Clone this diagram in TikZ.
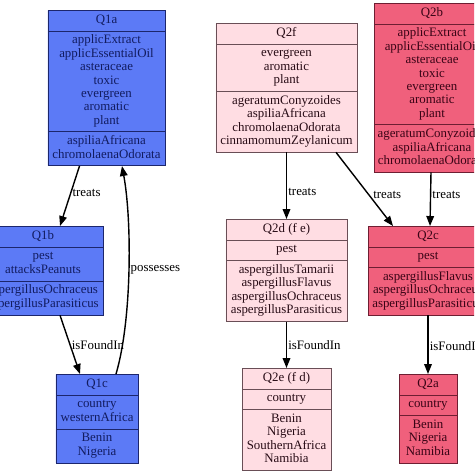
\documentclass[tikz,border=0pt]{standalone}
\usepackage{fontspec}
\setmainfont{Liberation Serif}
\usetikzlibrary{arrows.meta, shapes.multipart, calc}

\definecolor{oneFill}{RGB}{92,122,246}
\definecolor{oneText}{RGB}{18,28,96}
\definecolor{oneLine}{RGB}{28,38,108}
\definecolor{paleFill}{RGB}{255,221,227}
\definecolor{paleText}{RGB}{40,12,22}
\definecolor{paleLine}{RGB}{105,78,86}
\definecolor{deepFill}{RGB}{240,96,124}
\definecolor{deepText}{RGB}{58,4,22}
\definecolor{deepLine}{RGB}{110,30,50}

% one field of a record, padded to full line height
\newcommand{\field}[1]{\strut#1\strut}

\begin{document}
\begin{tikzpicture}[
    x=0.03cm, y=-0.03cm,
    % Styles
    record/.style={rectangle split, rectangle split parts=3, align=center, anchor=north,
        line width=0.6pt, inner xsep=2pt, inner ysep=2.8pt,
        font=\fontsize{11}{11.4}\selectfont},
    q_one/.style={record, draw=oneLine, fill=oneFill, text=oneText},
    q_pale/.style={record, draw=paleLine, fill=paleFill, text=paleText},
    q_deep/.style={record, draw=deepLine, fill=deepFill, text=deepText},
    arrow/.style={-{Triangle[length=8.5pt, width=6.5pt]}, line width=1.2pt, black},
    rel/.style={right, inner sep=1pt, font=\fontsize{11}{12}\selectfont}
]
    \useasboundingbox (0,0) rectangle (474,474);
    \clip (0,0) rectangle (474,474);

    % 1. LEFT GRAPH (Q1)
    \node[q_one, minimum width=3.51cm] (q1a) at (106.5,10) {\field{Q1a}
        \nodepart{two} \field{applicExtract\\applicEssentialOil\\asteraceae\\toxic\\evergreen\\aromatic\\plant}
        \nodepart{three} \field{aspiliaAfricana\\chromolaenaOdorata}};
    \node[q_one, minimum width=3.6cm] (q1b) at (43,226) {\field{Q1b}
        \nodepart{two} \field{pest\\attacksPeanuts}
        \nodepart{three} \field{aspergillusOchraceus\\aspergillusParasiticus}};
    \node[q_one, minimum width=2.46cm] (q1c) at (97,374) {\field{Q1c}
        \nodepart{two} \field{country\\westernAfrica}
        \nodepart{three} \field{Benin\\Nigeria}};

    % 2. RIGHT GRAPH (Q2)
    \node[q_pale, minimum width=4.23cm] (q2f) at (286.5,23) {\field{Q2f}
        \nodepart{two} \field{evergreen\\aromatic\\plant}
        \nodepart{three} \field{ageratumConyzoides\\aspiliaAfricana\\chromolaenaOdorata\\cinnamomumZeylanicum}};
    \node[q_deep, minimum width=3.48cm] (q2b) at (432,3) {\field{Q2b}
        \nodepart{two} \field{applicExtract\\applicEssentialOil\\asteraceae\\toxic\\evergreen\\aromatic\\plant}
        \nodepart{three} \field{ageratumConyzoides\\aspiliaAfricana\\chromolaenaOdorata}};
    \node[q_pale, minimum width=3.63cm] (q2d) at (286.5,219) {\field{Q2d (f e)}
        \nodepart{two} \field{pest}
        \nodepart{three} \field{aspergillusTamarii\\aspergillusFlavus\\aspergillusOchraceus\\aspergillusParasiticus}};
    \node[q_deep, minimum width=3.6cm] (q2c) at (428,226) {\field{Q2c}
        \nodepart{two} \field{pest}
        \nodepart{three} \field{aspergillusFlavus\\aspergillusOchraceus\\aspergillusParasiticus}};
    \node[q_pale, minimum width=2.67cm] (q2e) at (286.5,368) {\field{Q2e (f d)}
        \nodepart{two} \field{country}
        \nodepart{three} \field{Benin\\Nigeria\\SouthernAfrica\\Namibia}};
    \node[q_deep, minimum width=1.74cm] (q2a) at (428,374) {\field{Q2a}
        \nodepart{two} \field{country}
        \nodepart{three} \field{Benin\\Nigeria\\Namibia}};

    % 3. ARROWS
    \draw[arrow] ($(q1a.south)+(-27,0)$) -- node[rel, pos=0.45] {treats} ($(q1b.north)+(17,0)$);
    \draw[arrow] ($(q1b.south)+(17,0)$) -- node[rel, pos=0.5] {isFoundIn} ($(q1c.north)+(-17,0)$);
    % back edge, bends round to the right
    \draw[arrow] ($(q1c.north)+(19,0)$) .. controls +(16,-54) and +(10,54) .. node[rel, pos=0.5] {possesses} ($(q1a.south)+(15.5,0)$);

    \draw[arrow] (q2f.south) -- node[rel, pos=0.6] {treats} (q2d.north);
    \draw[arrow] ($(q2f.south)+(49.5,0)$) -- node[rel, pos=0.58, xshift=2pt] {treats} ($(q2c.north)+(-35,0)$);
    \draw[arrow] ($(q2b.south)+(-1,0)$) -- node[rel, pos=0.42] {treats} ($(q2c.north)+(2,0)$);

    \draw[arrow] (q2d.south) -- node[rel, pos=0.5] {isFoundIn} (q2e.north);
    \draw[arrow] (q2c.south) -- node[rel, pos=0.52] {isFoundIn} (q2a.north);

\end{tikzpicture}
\end{document}
